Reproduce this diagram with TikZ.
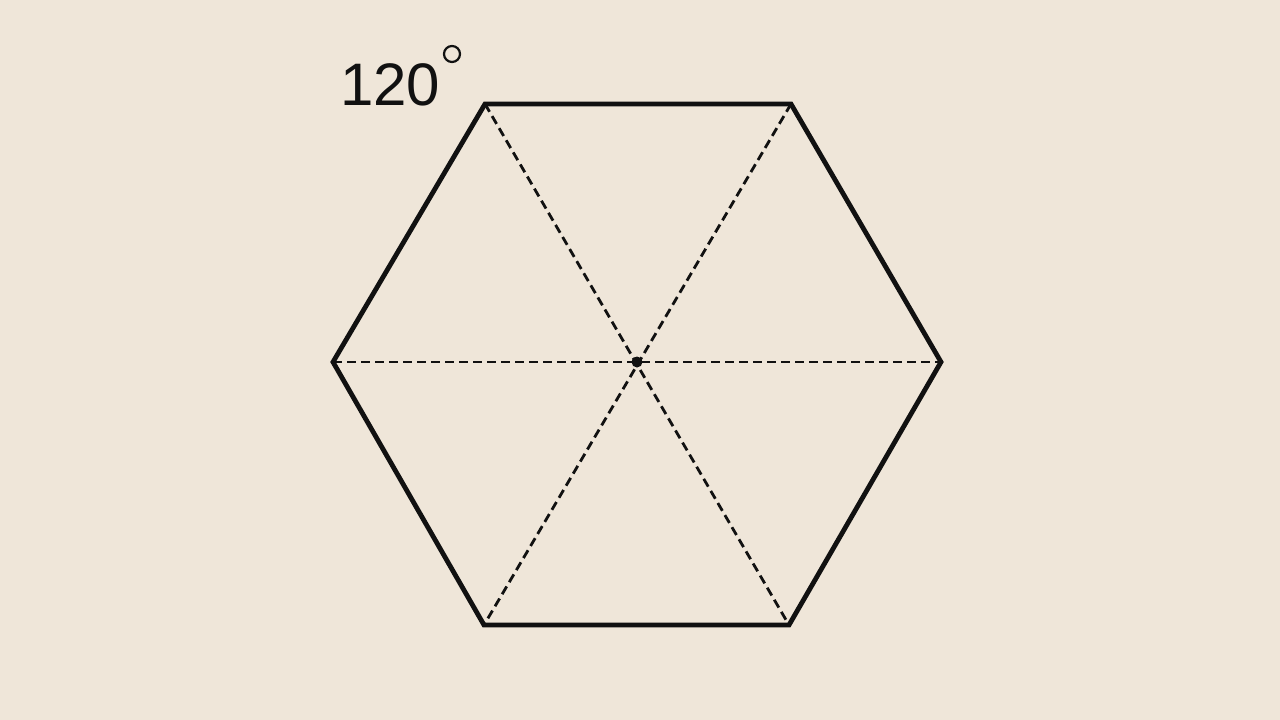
\documentclass[tikz,border=0pt]{standalone}
\usepackage{fontspec}
\setmainfont{Liberation Sans}
\definecolor{bgc}{HTML}{EFE6D9}
\definecolor{ink}{HTML}{111111}
\begin{document}
\begin{tikzpicture}[x=1pt,y=-1pt,
  edge/.style={draw=ink,line width=4.8pt,line join=miter},
  diag/.style={draw=ink,line width=2.8pt,dash pattern=on 9pt off 5pt},
  lbl/.style={text=ink,inner sep=0pt,anchor=base west,font=\fontsize{60}{60}\selectfont}]
\fill[bgc] (0,0) rectangle (1280,720);
\useasboundingbox (0,0) rectangle (1280,720);
\coordinate (A) at (485,104);
\coordinate (B) at (791,104);
\coordinate (C) at (941,362);
\coordinate (D) at (789,625);
\coordinate (E) at (484,625);
\coordinate (F) at (333,362);
\coordinate (O) at (637,362);
\draw[diag] (A) -- (D);
\draw[diag] (B) -- (E);
\draw[diag] (F) -- (C);
\fill[ink] (O) circle (5.5pt);
\draw[edge] (A) -- (B) -- (C) -- (D) -- (E) -- (F) -- cycle;
\node[lbl] (t) at (340,105) {120};
\draw[ink,line width=2.2pt] (452,54) circle (8pt);
\end{tikzpicture}
\end{document}
